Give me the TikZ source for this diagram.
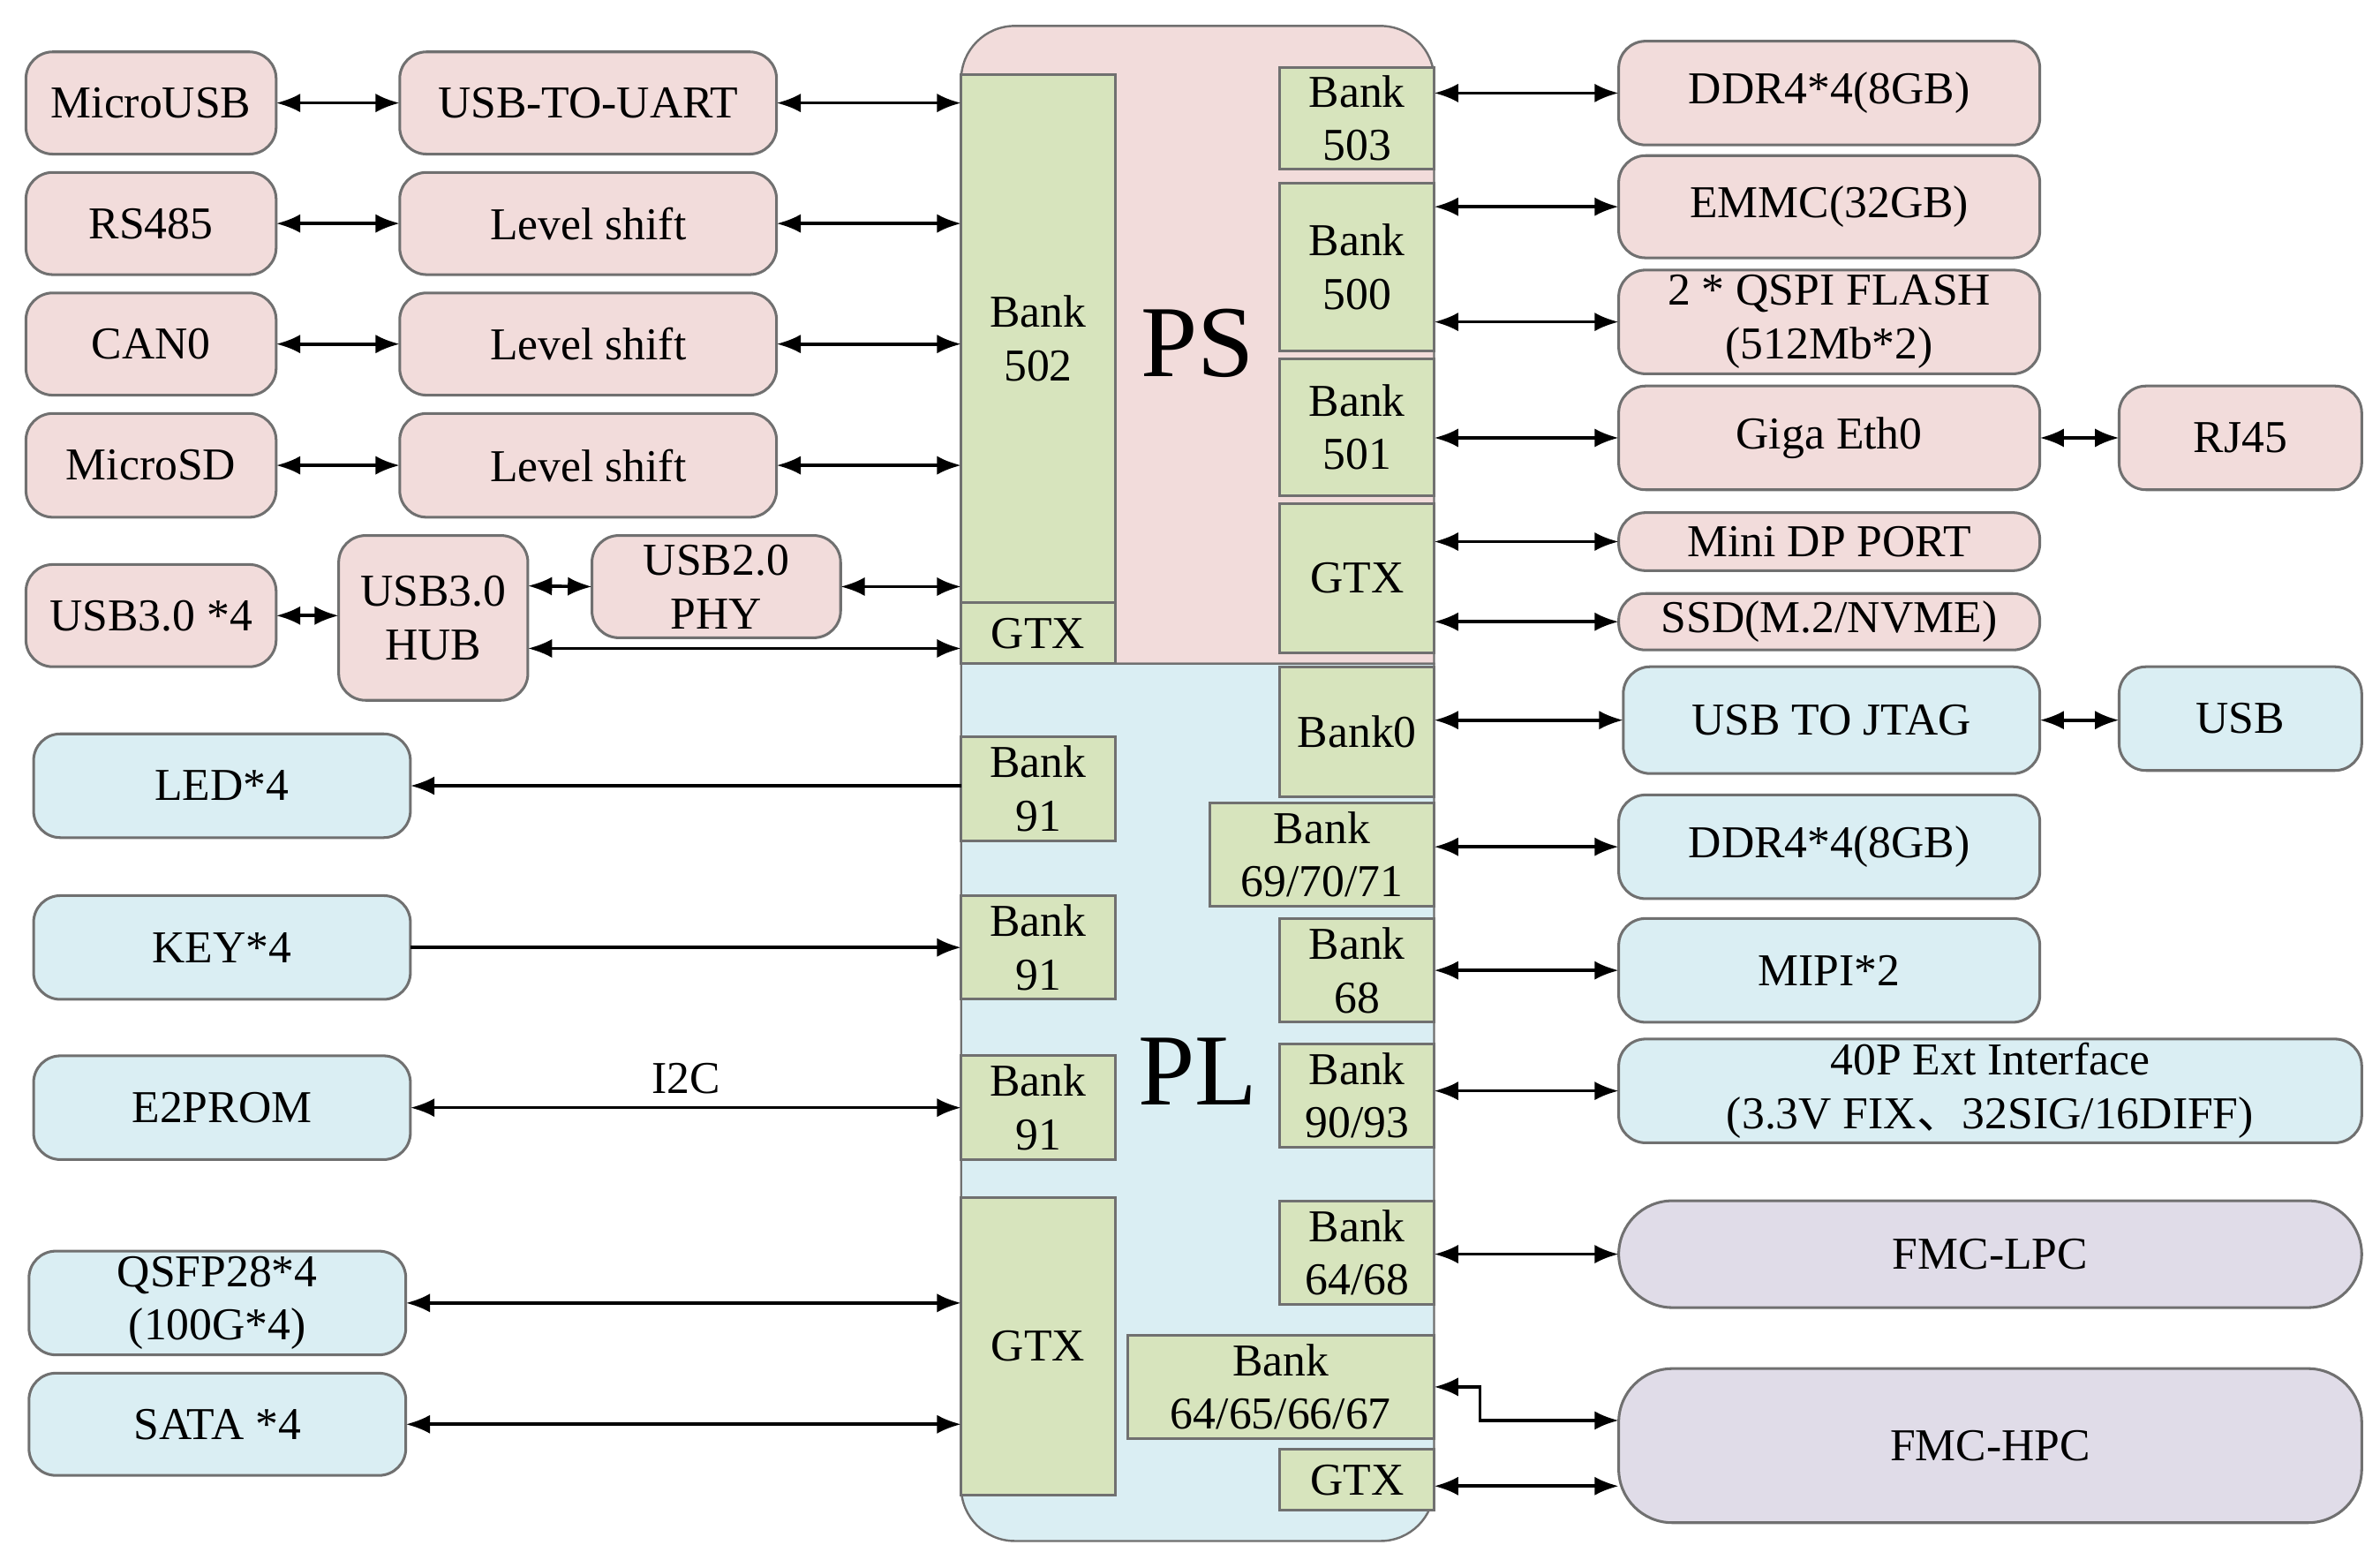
\documentclass[tikz,border=0pt]{standalone}
\usepackage{fontspec}
\setmainfont{Liberation Serif}
\newfontfamily\cjk{Noto Sans CJK SC}
\usetikzlibrary{arrows.meta}
\definecolor{pk}{HTML}{F2DCDB}
\definecolor{bl}{HTML}{DAEEF3}
\definecolor{gr}{HTML}{D7E4BD}
\definecolor{pu}{HTML}{E0DCE8}
\definecolor{ln}{HTML}{707070}
\newcommand{\bx}[7]{\node[#6,minimum width={(#4-#2)*0.01cm},minimum height={(#5-#3)*0.01cm}] (#1) at ({(#2+#4)/2},{(#3+#5)/2}) {#7};}
\begin{document}
\begin{tikzpicture}[x=0.01cm,y=-0.01cm,
 base/.style={draw=ln,inner sep=0pt,outer sep=0pt,align=center,font=\fontsize{8.5}{10}\selectfont,line width=0.5pt},
 pkb/.style={base,fill=pk,rounded corners=5pt},
 blb/.style={base,fill=bl,rounded corners=5pt},
 pub/.style={base,fill=pu,rounded corners=10pt},
 gb/.style={base,fill=gr,draw=ln},
 ar/.style={<->,>={Latex[length=4.5pt,width=3.5pt]},line width=0.6pt},
 ra/.style={->,>={Latex[length=4.5pt,width=3.5pt]},line width=0.6pt}]
\useasboundingbox (0,0) rectangle (1560,1022);
% chip
\draw[draw=ln,fill=pk] (630,435) [rounded corners=10pt]-- (630,17) -- (940,17) [sharp corners]-- (940,435) -- cycle;
\draw[draw=ln,fill=bl] (630,435) [rounded corners=10pt]-- (630,1010) -- (940,1010) [sharp corners]-- (940,435) -- cycle;
\node[font=\fontsize{19}{21}\selectfont] (ps) at (785,225) {PS};
\node[font=\fontsize{19}{21}\selectfont] (pl) at (785,702) {PL};
% banks
\bx{b502}{630}{49}{731}{395}{gb}{Bank\\502}
\bx{gtxa}{630}{395}{731}{435}{gb}{GTX}
\bx{b503}{839}{44}{940}{111}{gb}{Bank\\503}
\bx{b500}{839}{120}{940}{230}{gb}{Bank\\500}
\bx{b501}{839}{235}{940}{325}{gb}{Bank\\501}
\bx{gtxb}{839}{330}{940}{428}{gb}{GTX}
\bx{b0}{839}{437}{940}{522}{gb}{Bank0}
\bx{b69}{793}{526}{940}{594}{gb}{Bank\\69/70/71}
\bx{b68}{839}{602}{940}{670}{gb}{Bank\\68}
\bx{b90}{839}{684}{940}{752}{gb}{Bank\\90/93}
\bx{b64}{839}{787}{940}{855}{gb}{Bank\\64/68}
\bx{b6467}{739}{875}{940}{943}{gb}{Bank\\64/65/66/67}
\bx{gtxc}{839}{950}{940}{990}{gb}{GTX}
\bx{b91a}{630}{483}{731}{551}{gb}{Bank\\91}
\bx{b91b}{630}{587}{731}{655}{gb}{Bank\\91}
\bx{b91c}{630}{692}{731}{760}{gb}{Bank\\91}
\bx{gtxd}{630}{785}{731}{980}{gb}{GTX}
% left pink
\bx{musb}{17}{34}{181}{101}{pkb}{MicroUSB}
\bx{uart}{262}{34}{509}{101}{pkb}{USB-TO-UART}
\bx{rs}{17}{113}{181}{180}{pkb}{RS485}
\bx{ls1}{262}{113}{509}{180}{pkb}{Level shift}
\bx{can}{17}{192}{181}{259}{pkb}{CAN0}
\bx{ls2}{262}{192}{509}{259}{pkb}{Level shift}
\bx{msd}{17}{271}{181}{339}{pkb}{MicroSD}
\bx{ls3}{262}{271}{509}{339}{pkb}{Level shift}
\bx{u30}{17}{370}{181}{437}{pkb}{USB3.0 *4}
\bx{hub}{222}{351}{346}{459}{pkb}{USB3.0\\HUB}
\bx{phy}{388}{351}{551}{418}{pkb}{USB2.0\\PHY}
\draw[ar] (musb.east) -- (uart.west);
\draw[ar] (uart.east) -- (b502.west |- uart.east);
\draw[ar] (rs.east) -- (ls1.west);
\draw[ar] (ls1.east) -- (b502.west |- ls1.east);
\draw[ar] (can.east) -- (ls2.west);
\draw[ar] (ls2.east) -- (b502.west |- ls2.east);
\draw[ar] (msd.east) -- (ls3.west);
\draw[ar] (ls3.east) -- (b502.west |- ls3.east);
\draw[ar] (u30.east) -- (hub.west |- u30.east);
\coordinate (h1) at (346,384);
\draw[ar] (h1) -- (phy.west);
\draw[ar] (phy.east) -- (b502.west |- phy.east);
\coordinate (h2) at (346,425);
\draw[ar] (h2) -- (gtxa.west |- h2);
% left blue
\bx{led}{22}{481}{269}{549}{blb}{LED*4}
\bx{key}{22}{587}{269}{655}{blb}{KEY*4}
\bx{e2}{22}{692}{269}{760}{blb}{E2PROM}
\bx{qsfp}{19}{820}{266}{888}{blb}{QSFP28*4\\(100G*4)}
\bx{sata}{19}{900}{266}{967}{blb}{SATA *4}
\draw[ra] (b91a.west |- led.east) -- (led.east);
\draw[ra] (key.east) -- (b91b.west |- key.east);
\draw[ar] (e2.east) -- node[above=-1pt,font=\fontsize{8.5}{10}\selectfont] (i2c) {I2C} (b91c.west |- e2.east);
\draw[ar] (qsfp.east) -- (gtxd.west |- qsfp.east);
\draw[ar] (sata.east) -- (gtxd.west |- sata.east);
% right
\bx{ddr1}{1061}{27}{1337}{95}{pkb}{DDR4*4(8GB)}
\bx{emmc}{1061}{102}{1337}{169}{pkb}{EMMC(32GB)}
\bx{qspi}{1061}{177}{1337}{245}{pkb}{2 * QSPI FLASH\\(512Mb*2)}
\bx{eth}{1061}{253}{1337}{321}{pkb}{Giga Eth0}
\bx{rj}{1389}{253}{1548}{321}{pkb}{RJ45}
\bx{dp}{1061}{336}{1337}{374}{pkb}{Mini DP PORT}
\bx{ssd}{1061}{389}{1337}{426}{pkb}{SSD(M.2/NVME)}
\bx{jtag}{1064}{437}{1337}{507}{blb}{USB TO JTAG}
\bx{usb}{1389}{437}{1548}{505}{blb}{USB}
\bx{ddr2}{1061}{521}{1337}{589}{blb}{DDR4*4(8GB)}
\bx{mipi}{1061}{602}{1337}{670}{blb}{MIPI*2}
\bx{ext}{1061}{681}{1548}{749}{blb}{40P Ext Interface\\(3.3V FIX{\cjk 、}32SIG/16DIFF)}
\bx{lpc}{1061}{787}{1548}{857}{pub}{FMC-LPC}
\bx{hpc}{1061}{897}{1548}{998}{pub}{FMC-HPC}
\draw[ar] (b503.east |- ddr1.west) -- (ddr1.west);
\draw[ar] (b500.east |- emmc.west) -- (emmc.west);
\draw[ar] (b500.east |- qspi.west) -- (qspi.west);
\draw[ar] (b501.east |- eth.west) -- (eth.west);
\draw[ar] (eth.east) -- (rj.west);
\draw[ar] (gtxb.east |- dp.west) -- (dp.west);
\draw[ar] (gtxb.east |- ssd.west) -- (ssd.west);
\draw[ar] (b0.east |- jtag.west) -- (jtag.west);
\draw[ar] (jtag.east) -- (usb.west |- jtag.east);
\draw[ar] (b69.east |- ddr2.west) -- (ddr2.west);
\draw[ar] (b68.east |- mipi.west) -- (mipi.west);
\draw[ar] (b90.east |- ext.west) -- (ext.west);
\draw[ar] (b64.east |- lpc.west) -- (lpc.west);
\coordinate (f1) at (940,909);
\coordinate (f2) at (1061,931);
\draw[ar] (f1) -- (970,909) -- (970,931) -- (f2);
\coordinate (f3) at (1061,974);
\draw[ar] (gtxc.east |- f3) -- (f3);
\end{tikzpicture}
\end{document}
